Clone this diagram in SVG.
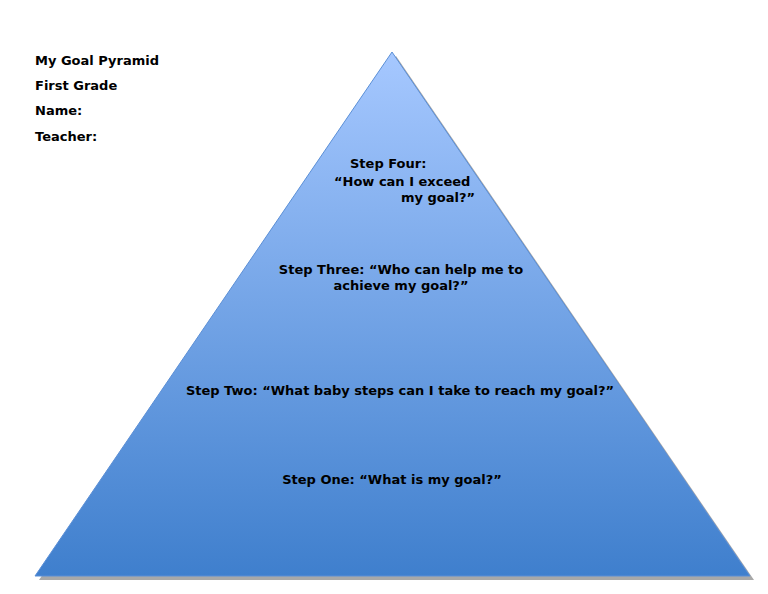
<svg xmlns="http://www.w3.org/2000/svg" width="768" height="594" viewBox="0 0 768 594">
<defs>
<linearGradient id="g" x1="0" y1="0" x2="0" y2="1">
<stop offset="0" stop-color="#a6c8ff"/>
<stop offset="1" stop-color="#3f7fcd"/>
</linearGradient>
<style>
text{font-family:"DejaVu Sans",sans-serif;font-weight:bold;font-size:13px;fill:#000}
.m{text-anchor:middle}
</style>
</defs>
<rect width="768" height="594" fill="#fff"/>
<g id="pyramid">
<polygon points="396,56 754,580 39,580" fill="#a8a8a8"/>
<polygon points="392,52 750,576 35,576" fill="url(#g)" stroke="#5b8fd6" stroke-width="1"/>
</g>
<g id="header">
<text x="35" y="65">My Goal Pyramid</text>
<text x="35" y="90">First Grade</text>
<text x="35" y="115">Name:</text>
<text x="35" y="141">Teacher:</text>
</g>
<g id="step4">
<text x="350" y="168">Step Four:</text>
<text x="334" y="186">“How can I exceed</text>
<text x="475" y="202" text-anchor="end">my goal?”</text>
</g>
<g id="step3">
<text class="m" x="401" y="274">Step Three: “Who can help me to</text>
<text class="m" x="401" y="290">achieve my goal?”</text>
</g>
<g id="step2"><text class="m" x="400" y="395">Step Two: “What baby steps can I take to reach my goal?”</text></g>
<g id="step1"><text class="m" x="392" y="484">Step One: “What is my goal?”</text></g>
<g id="connectors"/>
</svg>
